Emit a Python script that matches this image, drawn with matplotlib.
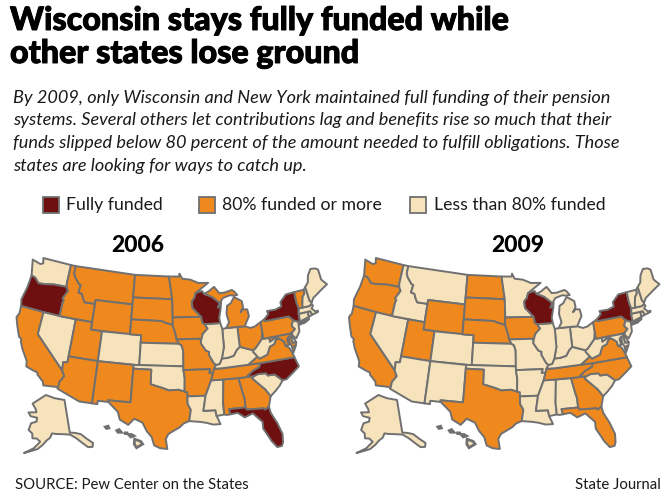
import numpy as np
import matplotlib
matplotlib.use("Agg")
import matplotlib.pyplot as plt
from matplotlib.patches import Rectangle
from matplotlib import patheffects as pe

# --- Text ---
title_lines = ["Wisconsin stays fully funded while", "other states lose ground"]
body_lines = [
    "By 2009, only Wisconsin and New York maintained full funding of their pension",
    "systems. Several others let contributions lag and benefits rise so much that their",
    "funds slipped below 80 percent of the amount needed to fulfill obligations. Those",
    "states are looking for ways to catch up.",
]
legend_labels = ["Fully funded", "80% funded or more", "Less than 80% funded"]

# --- Funding status per year ---
full_2006 = ["OR", "WI", "NY", "NC", "FL"]
partial_2006 = ["CA", "ID", "MT", "WY", "UT", "AZ", "NM", "TX", "ND", "SD", "NE", "MN", "IA",
                "MO", "AR", "TN", "AL", "GA", "VA", "MD", "PA", "OH", "MI", "VT"]
full_2009 = ["WI", "NY"]
partial_2009 = ["WA", "OR", "CA", "UT", "WY", "ND", "SD", "NE", "IA", "TX", "PA", "VA", "TN",
                "NC", "GA", "FL"]

# --- State outlines, lon/lat ---
states = {
    "WA": [[(-124.7, 48.38), (-124.0, 46.3), (-123.2, 46.15), (-122.3, 45.55), (-121.2, 45.65), (-119.3, 45.93),
            (-116.92, 46.0), (-117.04, 46.4), (-117.04, 49), (-122.76, 49), (-122.5, 48.3), (-123.0, 48.1)]],
    "OR": [[(-124.0, 46.3), (-124.1, 44.7), (-124.5, 42.85), (-124.2, 42), (-120, 42), (-117.03, 42), (-117.03, 43.8),
            (-116.9, 44.2), (-117.2, 44.4), (-116.5, 45.5), (-116.92, 46), (-119.3, 45.93), (-121.2, 45.65),
            (-122.3, 45.55), (-123.2, 46.15)]],
    "CA": [[(-124.2, 42), (-120, 42), (-120, 39), (-114.63, 35), (-114.13, 34.3), (-114.72, 33.4), (-114.72, 32.72),
            (-117.12, 32.53), (-117.3, 33), (-118.4, 33.75), (-118.5, 34.03), (-119.2, 34.15), (-120.5, 34.45),
            (-120.65, 35.15), (-121.9, 36.6), (-122.5, 37.5), (-122.5, 37.8), (-123, 38), (-123.8, 39.3),
            (-124.4, 40.4), (-124.1, 41)]],
    "NV": [[(-120, 42), (-117.03, 42), (-114.04, 42), (-114.04, 36.2), (-114.75, 36.1), (-114.63, 35), (-120, 39)]],
    "ID": [[(-117.04, 49), (-116.05, 49), (-116.05, 48), (-115.7, 47.5), (-114.7, 46.7), (-114.35, 46.65), (-114.5, 45.6),
            (-113.8, 45.5), (-113.45, 44.95), (-113, 44.45), (-111.05, 44.48), (-111.05, 42), (-117.03, 42),
            (-117.03, 43.8), (-116.9, 44.2), (-117.2, 44.4), (-116.5, 45.5), (-116.92, 46), (-117.04, 46.4)]],
    "MT": [[(-116.05, 49), (-104.05, 49), (-104.05, 45), (-111.05, 45), (-111.05, 44.48), (-113, 44.45), (-113.45, 44.95),
            (-113.8, 45.5), (-114.5, 45.6), (-114.35, 46.65), (-114.7, 46.7), (-115.7, 47.5), (-116.05, 48)]],
    "WY": [[(-111.05, 45), (-104.05, 45), (-104.05, 41), (-111.05, 41)]],
    "UT": [[(-114.04, 42), (-111.05, 42), (-111.05, 41), (-109.05, 41), (-109.05, 37), (-114.04, 37)]],
    "CO": [[(-109.05, 41), (-102.05, 41), (-102.05, 37), (-109.05, 37)]],
    "AZ": [[(-114.04, 37), (-109.05, 37), (-109.05, 31.33), (-111.07, 31.33), (-114.81, 32.5), (-114.72, 32.72),
            (-114.72, 33.4), (-114.13, 34.3), (-114.63, 35), (-114.75, 36.1), (-114.04, 36.2)]],
    "NM": [[(-109.05, 37), (-103, 37), (-103.04, 32), (-106.62, 32), (-106.53, 31.78), (-108.2, 31.78), (-108.2, 31.33),
            (-109.05, 31.33)]],
    "ND": [[(-104.05, 49), (-97.23, 49), (-96.56, 45.94), (-104.05, 45.94)]],
    "SD": [[(-104.05, 45.94), (-96.56, 45.94), (-96.45, 43.5), (-96.45, 42.5), (-97.9, 42.8), (-98.5, 43), (-104.05, 43)]],
    "NE": [[(-104.05, 43), (-98.5, 43), (-97.9, 42.8), (-96.45, 42.5), (-96.1, 41.7), (-95.85, 41), (-95.31, 40),
            (-102.05, 40), (-102.05, 41), (-104.05, 41)]],
    "KS": [[(-102.05, 40), (-95.31, 40), (-94.9, 39.8), (-94.61, 39.1), (-94.62, 37), (-102.05, 37)]],
    "OK": [[(-103, 37), (-94.62, 37), (-94.62, 36.5), (-94.43, 35.4), (-94.48, 33.64), (-95.5, 33.9), (-97, 33.8), (-98, 34.1),
            (-100, 34.56), (-100, 36.5), (-103, 36.5)]],
    "TX": [[(-103, 36.5), (-100, 36.5), (-100, 34.56), (-98, 34.1), (-97, 33.8), (-95.5, 33.9), (-94.48, 33.64),
            (-94.04, 33.55), (-94.04, 33), (-94.04, 32), (-93.55, 31.2), (-93.85, 29.7), (-94.7, 29.4), (-95.3, 28.9),
            (-97, 28), (-97.4, 27.3), (-97.15, 25.96), (-98.2, 26.05), (-99.1, 26.4), (-99.5, 27.5), (-100.3, 28.3),
            (-101, 29.4), (-102.3, 29.85), (-103.15, 28.98), (-104.5, 29.6), (-104.9, 30.6), (-106.53, 31.78),
            (-106.62, 32), (-103.04, 32)]],
    "MN": [[(-97.23, 49), (-95.15, 49), (-95.15, 49.38), (-94.6, 48.7), (-93, 48.55), (-91.4, 48.05), (-89.5, 48),
            (-92.05, 46.72), (-92.3, 46.1), (-92.85, 45.6), (-92.75, 44.75), (-91.2, 43.5), (-96.45, 43.5), (-96.56, 45.94)]],
    "IA": [[(-96.45, 43.5), (-91.2, 43.5), (-91.05, 42.7), (-90.65, 42.5), (-90.15, 41.9), (-91.1, 41.2), (-91.42, 40.38),
            (-91.75, 40.6), (-95.77, 40.58), (-95.85, 41), (-96.1, 41.7), (-96.45, 42.5)]],
    "MO": [[(-95.77, 40.58), (-91.75, 40.6), (-91.42, 40.38), (-91.5, 40), (-90.7, 39), (-90.15, 38.8), (-90.2, 38.4),
            (-89.5, 37.3), (-89.15, 37), (-89.5, 36.5), (-89.7, 36), (-90.37, 36), (-90.15, 36.5), (-94.62, 36.5),
            (-94.62, 37), (-94.61, 39.1), (-94.9, 39.8), (-95.31, 40)]],
    "AR": [[(-94.62, 36.5), (-90.15, 36.5), (-90.37, 36), (-89.7, 36), (-90.1, 35), (-91.15, 33), (-94.04, 33),
            (-94.04, 33.55), (-94.48, 33.64), (-94.43, 35.4)]],
    "LA": [[(-94.04, 33), (-91.15, 33), (-91.6, 31), (-89.73, 31), (-89.6, 30.2), (-89.4, 29.8), (-89.1, 29.1), (-90.2, 29.1),
            (-91.3, 29.4), (-92.2, 29.55), (-93.85, 29.7), (-93.55, 31.2), (-94.04, 32)]],
    "MS": [[(-90.1, 35), (-88.2, 35), (-88.1, 34.9), (-88.45, 31.9), (-88.4, 30.35), (-89.6, 30.2), (-89.73, 31), (-91.6, 31),
            (-91.15, 33)]],
    "AL": [[(-88.2, 35), (-85.6, 35), (-85.15, 32.8), (-85, 32.3), (-85, 31), (-87.6, 31), (-87.45, 30.3), (-88, 30.25),
            (-88.4, 30.35), (-88.45, 31.9), (-88.1, 34.9)]],
    "GA": [[(-85.6, 35), (-84.32, 35), (-83.1, 35), (-83.35, 34.7), (-81.5, 33), (-80.87, 32.03), (-81.4, 30.7), (-82.05, 30.36),
            (-82.2, 30.57), (-84.86, 30.7), (-85, 31), (-85, 32.3), (-85.15, 32.8)]],
    "FL": [[(-87.6, 31), (-85, 31), (-84.86, 30.7), (-82.2, 30.57), (-82.05, 30.36), (-81.4, 30.7), (-81.25, 29.8),
            (-80.55, 28.4), (-80.03, 26.8), (-80.15, 25.7), (-80.4, 25.2), (-81.1, 25.15), (-81.8, 26.1), (-82.2, 26.9),
            (-82.75, 27.9), (-82.7, 28.8), (-83.4, 29.5), (-84, 30.1), (-85.3, 29.7), (-86.3, 30.4), (-87.45, 30.3)]],
    "SC": [[(-83.35, 34.7), (-83.1, 35), (-82.3, 35.2), (-81.05, 35.15), (-80.8, 34.82), (-79.67, 34.8), (-78.55, 33.86),
            (-79.2, 33.2), (-80, 32.6), (-80.87, 32.03), (-81.5, 33)]],
    "NC": [[(-84.32, 35), (-83.1, 35), (-82.3, 35.2), (-81.05, 35.15), (-80.8, 34.82), (-79.67, 34.8), (-78.55, 33.86),
            (-77.9, 33.9), (-76.55, 34.65), (-75.5, 35.25), (-75.9, 36.55), (-81.68, 36.59), (-82, 36.1), (-83.1, 35.75)]],
    "TN": [[(-90.1, 35), (-88.2, 35), (-85.6, 35), (-84.32, 35), (-83.1, 35.75), (-82, 36.1), (-81.68, 36.59), (-83.68, 36.6),
            (-88.07, 36.5), (-89.5, 36.5), (-89.7, 36)]],
    "KY": [[(-89.5, 36.5), (-88.07, 36.5), (-83.68, 36.6), (-82, 37.5), (-82.6, 38.2), (-82.6, 38.42), (-84.8, 39.1),
            (-85.4, 38.7), (-86, 38), (-87.1, 37.8), (-88.05, 37.8), (-88.5, 37.1), (-89.15, 37)]],
    "VA": [[(-83.68, 36.6), (-81.68, 36.59), (-75.9, 36.55), (-76, 36.9), (-76.4, 37.9), (-77, 38.3), (-77.05, 38.85),
            (-77.72, 39.32), (-78.35, 39.4), (-78.87, 38.75), (-79.65, 38.55), (-80.3, 37.55), (-81.7, 37.2), (-82, 37.5)],
           [(-75.25, 38.03), (-75.9, 37.95), (-75.95, 37.15), (-75.65, 37.5)]],
    "WV": [[(-82, 37.5), (-81.7, 37.2), (-80.3, 37.55), (-79.65, 38.55), (-78.87, 38.75), (-78.35, 39.4), (-77.72, 39.32),
            (-78.4, 39.62), (-79.48, 39.2), (-79.48, 39.72), (-80.52, 39.72), (-80.52, 40.64), (-80.85, 39.7), (-81.7, 39),
            (-82.2, 38.6), (-82.6, 38.42), (-82.6, 38.2)]],
    "OH": [[(-84.8, 41.76), (-83.45, 41.72), (-82.5, 41.4), (-81.7, 41.5), (-80.52, 41.97), (-80.52, 40.64), (-80.85, 39.7),
            (-81.7, 39), (-82.2, 38.6), (-82.6, 38.42), (-84.8, 39.1)]],
    "IN": [[(-87.53, 41.7), (-86.8, 41.76), (-84.8, 41.76), (-84.8, 39.1), (-85.4, 38.7), (-86, 38), (-87.1, 37.8),
            (-88.05, 37.8), (-87.53, 39.3)]],
    "IL": [[(-90.65, 42.5), (-87.8, 42.5), (-87.53, 41.7), (-87.53, 39.3), (-88.05, 37.8), (-88.5, 37.1), (-89.15, 37),
            (-89.5, 37.3), (-90.2, 38.4), (-90.15, 38.8), (-90.7, 39), (-91.5, 40), (-91.42, 40.38), (-91.1, 41.2),
            (-90.15, 41.9)]],
    "WI": [[(-92.05, 46.72), (-90.8, 46.95), (-90.4, 46.55), (-89, 46.1), (-87.8, 45.35), (-87.6, 45.1), (-88, 44.55),
            (-87.3, 45.2), (-87.5, 44.4), (-87.9, 43.2), (-87.8, 42.5), (-90.65, 42.5), (-91.05, 42.7), (-91.2, 43.5),
            (-92.75, 44.75), (-92.85, 45.6), (-92.3, 46.1)]],
    "MI": [[(-86.8, 41.76), (-84.8, 41.76), (-83.45, 41.72), (-83.1, 42.2), (-82.45, 43), (-82.6, 43.9), (-83.3, 44),
            (-83.9, 43.65), (-83.3, 44.3), (-83.4, 45.1), (-84.75, 45.78), (-85.5, 45), (-86.25, 44.7), (-86.5, 43.6),
            (-86.2, 42.5)],
           [(-90.4, 46.55), (-89, 46.1), (-87.8, 45.35), (-87.6, 45.1), (-86.9, 45.8), (-85.5, 46.08), (-84.75, 45.95),
            (-84.1, 46), (-84.6, 46.5), (-85, 46.75), (-86.5, 46.5), (-87.5, 46.5), (-88.4, 47.4), (-89.5, 46.85)]],
    "PA": [[(-80.52, 41.97), (-79.76, 42.27), (-79.76, 42), (-75.35, 42), (-74.7, 41.36), (-75.1, 40.9), (-75.2, 40.65),
            (-74.75, 40.2), (-75.4, 39.8), (-75.79, 39.72), (-79.48, 39.72), (-80.52, 39.72)]],
    "NY": [[(-79.76, 42.27), (-78.9, 42.85), (-79.05, 43.27), (-77.5, 43.25), (-76.3, 43.5), (-76.3, 44.1), (-75, 44.95),
            (-73.35, 45), (-73.4, 43.6), (-73.25, 42.75), (-73.5, 42.05), (-73.55, 41.3), (-73.65, 41), (-73.9, 41),
            (-74.7, 41.36), (-75.35, 42), (-79.76, 42)],
           [(-74, 40.6), (-73.8, 40.85), (-72.6, 41), (-71.9, 41.05), (-72.8, 40.7)]],
    "NJ": [[(-74.7, 41.36), (-73.9, 41), (-74, 40.45), (-74.1, 39.75), (-74.9, 38.95), (-75.5, 39.5), (-75.4, 39.8),
            (-74.75, 40.2), (-75.2, 40.65), (-75.1, 40.9)]],
    "DE": [[(-75.79, 39.72), (-75.4, 39.8), (-75.5, 39.4), (-75.05, 38.45), (-75.7, 38.46)]],
    "MD": [[(-79.48, 39.72), (-75.79, 39.72), (-75.7, 38.46), (-75.05, 38.45), (-75.25, 38.03), (-75.9, 37.95), (-76.2, 38.6),
            (-76.1, 39.4), (-76.5, 39.1), (-76.4, 38.3), (-77, 38.3), (-77.05, 38.85), (-77.72, 39.32), (-78.4, 39.62),
            (-79.48, 39.2)]],
    "CT": [[(-73.5, 42.05), (-71.8, 42.02), (-71.85, 41.32), (-73.65, 41), (-73.55, 41.3)]],
    "RI": [[(-71.8, 42.02), (-71.38, 42.02), (-71.15, 41.5), (-71.85, 41.32)]],
    "MA": [[(-73.25, 42.75), (-72.45, 42.73), (-71.3, 42.7), (-70.85, 42.87), (-70.6, 42.65), (-71, 42.3), (-70.6, 41.95),
            (-70.5, 41.8), (-70, 41.8), (-70.05, 41.65), (-70.65, 41.55), (-71.15, 41.5), (-71.38, 42.02), (-71.8, 42.02),
            (-73.5, 42.05)]],
    "VT": [[(-73.35, 45), (-71.5, 45), (-71.55, 44.5), (-72.05, 44.1), (-72.45, 43.1), (-72.45, 42.73), (-73.25, 42.75),
            (-73.4, 43.6)]],
    "NH": [[(-71.5, 45), (-71.1, 45.3), (-70.98, 43.4), (-70.7, 43.07), (-70.85, 42.87), (-71.3, 42.7), (-72.45, 42.73),
            (-72.45, 43.1), (-72.05, 44.1), (-71.55, 44.5)]],
    "ME": [[(-71.1, 45.3), (-70.4, 45.8), (-70, 46.7), (-69.2, 47.45), (-68.3, 47.35), (-67.8, 47.07), (-67.8, 45.7),
            (-67.45, 45.3), (-67, 44.85), (-68.5, 44.3), (-69.1, 44.05), (-70.2, 43.6), (-70.7, 43.07), (-70.98, 43.4)]],
}
alaska = [(-141, 69.6), (-141, 60.3), (-138, 59.9), (-135, 59.2), (-132.5, 57.5), (-130, 55.8), (-130.8, 54.8),
          (-133, 55.1), (-135.5, 56.8), (-138, 58.4), (-141, 59.7), (-145, 60.1), (-149, 60.3), (-151.5, 60.5),
          (-152.5, 59.3), (-154.5, 58.5), (-156.5, 57.2), (-159, 55.9), (-163, 54.9), (-165.5, 54.2), (-161, 56),
          (-158, 58), (-160, 58.8), (-162.5, 58.7), (-163, 60), (-165.5, 60.8), (-164.8, 62.8), (-161.5, 63.5),
          (-161.5, 64.6), (-166, 64.7), (-168, 65.6), (-162.5, 66.1), (-163.5, 67), (-166.5, 68.3), (-163, 69.5),
          (-156.6, 71.3), (-149, 70.4)]
hawaii = [[(-155.9, 20.25), (-155.1, 19.9), (-154.85, 19.5), (-155.65, 18.95), (-155.95, 19.5)],
          [(-156.7, 20.95), (-156.3, 20.95), (-156.0, 20.75), (-156.4, 20.58)],
          [(-157.3, 21.2), (-156.75, 21.18), (-157.0, 21.08)],
          [(-158.25, 21.55), (-157.95, 21.7), (-157.65, 21.3), (-158.1, 21.3)],
          [(-159.75, 22.1), (-159.4, 22.22), (-159.3, 21.95), (-159.6, 21.88)]]

# --- Colours ---
DARK = "#6e1010"
ORANGE = "#f0891d"
TAN = "#f6e3bc"
EDGE = "#707070"

W, H = 672, 500
fig = plt.figure(figsize=(W / 100, H / 100), dpi=100)
bg = fig.add_axes([0, 0, 1, 1])
bg.set_xlim(0, W)
bg.set_ylim(H, 0)
bg.axis("off")


def albers(lon, lat, lon0=-96.0, lat0=37.5, p1=29.5, p2=45.5):
    lon, lat, p1, p2, lat0 = map(np.radians, (np.asarray(lon), np.asarray(lat), p1, p2, lat0))
    n = (np.sin(p1) + np.sin(p2)) / 2
    c = np.cos(p1) ** 2 + 2 * n * np.sin(p1)
    rho = np.sqrt(c - 2 * n * np.sin(lat)) / n
    rho0 = np.sqrt(c - 2 * n * np.sin(lat0)) / n
    th = n * (lon - np.radians(lon0))
    return rho * np.sin(th), rho0 - rho * np.cos(th)


def px_axes(x0, y0, x1, y1):
    ax = fig.add_axes([x0 / W, 1 - y1 / H, (x1 - x0) / W, (y1 - y0) / H])
    ax.axis("off")
    return ax


main_x = np.concatenate([albers(*zip(*ring))[0] for rings in states.values() for ring in rings])
main_y = np.concatenate([albers(*zip(*ring))[1] for rings in states.values() for ring in rings])
ak_x, ak_y = albers(*zip(*alaska), lon0=-152, lat0=62, p1=55, p2=65)


def state_color(code, full, partial):
    if code in full:
        return DARK
    if code in partial:
        return ORANGE
    return TAN


def draw_map(dx, full, partial):
    # lower 48
    ax = px_axes(dx + 16.5, 258, dx + 327, 449)
    ax.set_xlim(main_x.min(), main_x.max())
    ax.set_ylim(main_y.min(), main_y.max())
    for code, rings in states.items():
        for ring in rings:
            xs, ys = albers(*zip(*ring))
            ax.fill(xs, ys, facecolor=state_color(code, full, partial), edgecolor=EDGE,
                    linewidth=1.4, joinstyle="round", clip_on=False)
    # Alaska
    ax = px_axes(dx + 24, 395, dx + 93, 453)
    ax.set_xlim(ak_x.min(), ak_x.max())
    ax.set_ylim(ak_y.min(), ak_y.max())
    ax.fill(ak_x, ak_y, facecolor=TAN, edgecolor=EDGE, linewidth=1.4, joinstyle="round", clip_on=False)
    # Hawaii
    ax = px_axes(dx + 105, 426, dx + 143, 448)
    ax.set_xlim(-159.8, -154.8)
    ax.set_ylim(18.9, 22.25)
    for ring in hawaii:
        ax.fill(*zip(*ring), facecolor=TAN, edgecolor=EDGE, linewidth=2, clip_on=False)


draw_map(0, full_2006, partial_2006)
draw_map(332.5, full_2009, partial_2009)

# --- Text blocks ---
heavy = [pe.withStroke(linewidth=0.7, foreground="black")]
for line, y in zip(title_lines, [30, 63]):
    bg.text(10, y, line, family="Lato", weight=900, fontsize=23.2, va="baseline", color="black", path_effects=heavy)
for line, y in zip(body_lines, [103, 125.5, 148, 171]):
    bg.text(13, y, line, family="Lato", style="italic", fontsize=13.1, va="baseline", color="#1a1a1a")

legend_x = [43, 199, 410]
text_x = [66, 222, 434]
for lx, tx, lab, col in zip(legend_x, text_x, legend_labels, [DARK, ORANGE, TAN]):
    bg.add_patch(Rectangle((lx, 197), 16, 16, facecolor=col, edgecolor=EDGE, linewidth=1.3))
    bg.text(tx, 210, lab, family="Lato", fontsize=12.7, va="baseline", color="#1a1a1a")

bg.text(138, 252.5, "2006", family="Lato", weight=900, fontsize=16.5, ha="center", va="baseline", color="black")
bg.text(518, 252.5, "2009", family="Lato", weight=900, fontsize=16.5, ha="center", va="baseline", color="black")

bg.text(15, 489, "SOURCE: Pew Center on the States", family="Lato", fontsize=10.7, va="baseline", color="#1a1a1a")
bg.text(661, 489, "State Journal", family="Lato", fontsize=10.7, ha="right", va="baseline", color="#1a1a1a")

fig.savefig("out.png", dpi=100)
